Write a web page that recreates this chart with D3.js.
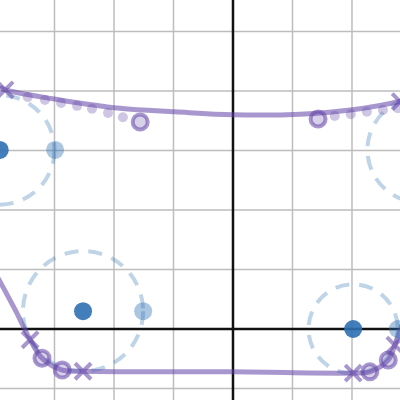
<!DOCTYPE html><html><head><script src="https://cdn.jsdelivr.net/npm/d3@7"></script>
<style>body{margin:0}svg{display:block}</style></head><body><script>
const xTicks=[-3,-2,-1,1,2], yTicks=[-1,1,2,3,4,5];
const topCurve=[[-3.92,4.06],[-3.83,4.02],[-2.91,3.85],[-1.9,3.71],[-0.97,3.65],[0,3.6],[1.13,3.61],[1.97,3.68],[2.81,3.83],[2.9,3.86]];
const bottomCurve=[[-3.95,0.86],[-3.66,0.32],[-3.41,-0.18],[-3.21,-0.49],[-2.87,-0.69],[-2.52,-0.71],[0,-0.72],[2.02,-0.74],[2.30,-0.72],[2.61,-0.52],[2.72,-0.27],[2.84,0.07]];
const fadedDots=[[-3.45,3.9],[-3.16,3.85],[-2.89,3.8],[-2.62,3.75],[-2.37,3.7],[-2.1,3.63],[-1.85,3.56],[1.71,3.58],[1.98,3.61],[2.25,3.65],[2.52,3.68],[2.77,3.71]];
const openCircles=[[-1.56,3.48],[1.43,3.53],[-3.21,-0.49],[-2.87,-0.69],[2.30,-0.72],[2.61,-0.52]];
const crosses=[[-3.83,4.02],[2.81,3.82],[-3.41,-0.18],[-2.52,-0.71],[2.02,-0.74],[2.72,-0.27]];
const centers=[[-3.92,3.01,0.92],[-2.52,0.30,1.01],[2.02,0,0.75],[3.14,3.01,0.88]];
const darkDots=[[-3.92,3.01],[-2.52,0.30],[2.02,0]];
const lightDots=[[-2.99,3.01],[-1.51,0.30],[2.77,0]];
const W=400,H=400;
const x=d3.scaleLinear().domain([-3.916,2.807]).range([0,W]);
const y=d3.scaleLinear().domain([-1.193,5.529]).range([H,0]);
const svg=d3.select("body").append("svg").attr("width",W).attr("height",H).style("background","#fff");
svg.selectAll(".gx").data(xTicks).join("line").attr("x1",d=>x(d)).attr("x2",d=>x(d)).attr("y1",0).attr("y2",H).attr("stroke","#bdbdbd").attr("stroke-width",1.5);
svg.selectAll(".gy").data(yTicks).join("line").attr("y1",d=>y(d)).attr("y2",d=>y(d)).attr("x1",0).attr("x2",W).attr("stroke","#bdbdbd").attr("stroke-width",1.5);
svg.append("line").attr("x1",x(0)).attr("x2",x(0)).attr("y1",0).attr("y2",H).attr("stroke","#111").attr("stroke-width",2.5);
svg.append("line").attr("y1",y(0)).attr("y2",y(0)).attr("x1",0).attr("x2",W).attr("stroke","#111").attr("stroke-width",2.5);
const k=x(1)-x(0);
svg.selectAll(".c").data(centers).join("circle").attr("cx",d=>x(d[0])).attr("cy",d=>y(d[1])).attr("r",d=>d[2]*k).attr("fill","none").attr("stroke","#2d70b3").attr("stroke-opacity",0.3).attr("stroke-width",4).attr("stroke-dasharray","14,10");
const line=d3.line().x(d=>x(d[0])).y(d=>y(d[1])).curve(d3.curveCatmullRom);
const P="#6042a6";
[topCurve,bottomCurve].forEach(c=>svg.append("path").attr("d",line(c)).attr("fill","none").attr("stroke",P).attr("stroke-opacity",0.55).attr("stroke-width",5));
svg.selectAll(".fd").data(fadedDots).join("circle").attr("cx",d=>x(d[0])).attr("cy",d=>y(d[1])).attr("r",5).attr("fill",P).attr("fill-opacity",0.3);
svg.selectAll(".oc").data(openCircles).join("circle").attr("cx",d=>x(d[0])).attr("cy",d=>y(d[1])).attr("r",7.5).attr("fill",P).attr("fill-opacity",0.25).attr("stroke",P).attr("stroke-opacity",0.55).attr("stroke-width",4);
crosses.forEach(d=>{const cx=x(d[0]),cy=y(d[1]),s=8;
svg.append("path").attr("d",`M${cx-s},${cy-s}L${cx+s},${cy+s}M${cx-s},${cy+s}L${cx+s},${cy-s}`).attr("stroke",P).attr("stroke-opacity",0.55).attr("stroke-width",4);});
svg.selectAll(".ld").data(lightDots).join("circle").attr("cx",d=>x(d[0])).attr("cy",d=>y(d[1])).attr("r",9).attr("fill","#2d70b3").attr("fill-opacity",0.4);
svg.selectAll(".dd").data(darkDots).join("circle").attr("cx",d=>x(d[0])).attr("cy",d=>y(d[1])).attr("r",9).attr("fill","#2d70b3").attr("fill-opacity",0.9);
</script></body></html>
